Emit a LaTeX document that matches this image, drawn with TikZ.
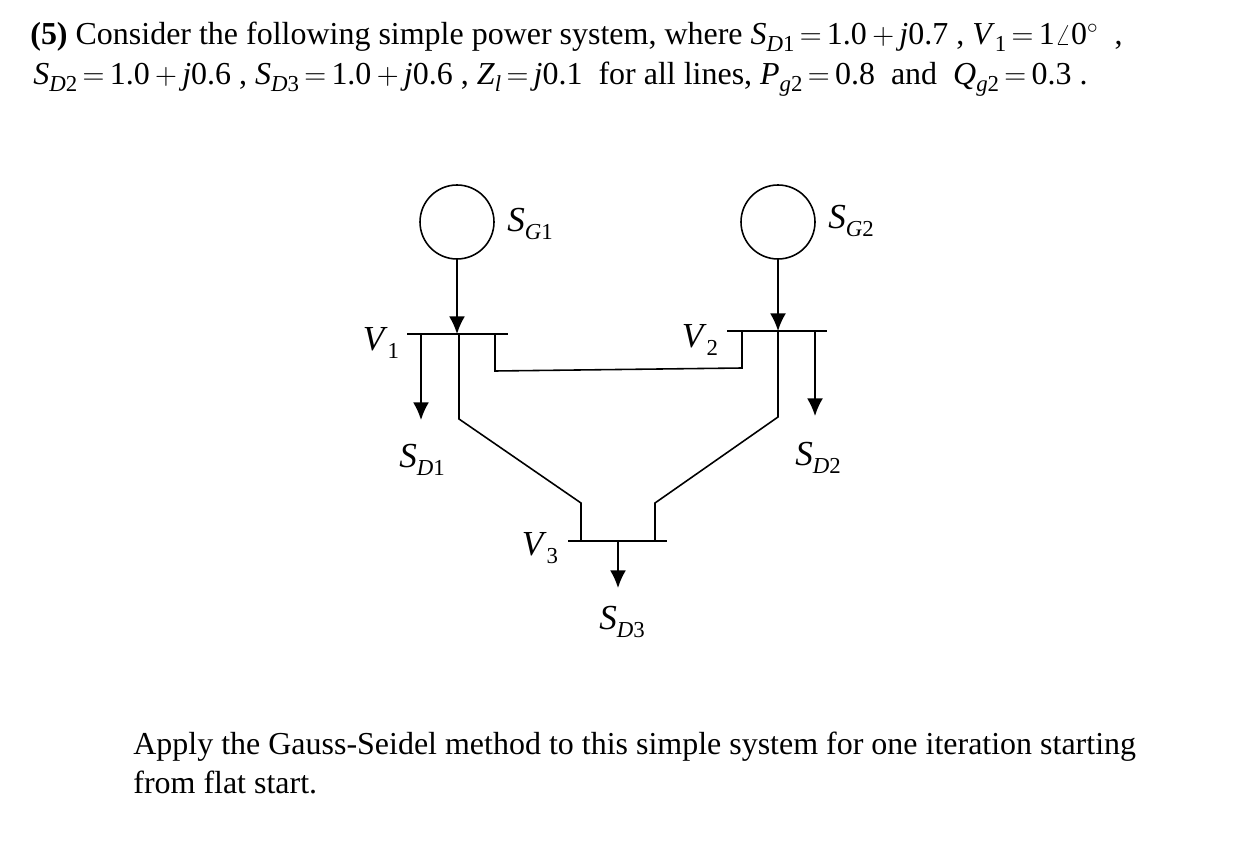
\documentclass[tikz,border=0pt]{standalone}
\usetikzlibrary{arrows.meta}
\usepackage{fontspec}
\setmainfont{Liberation Serif}
\newcommand\sbs[1]{\raisebox{-0.45ex}{\fontsize{13}{14}\selectfont #1}}
\newcommand\isub[2]{\textit{#1}\sbs{\textit{#2}}}
\newcommand\nsub[2]{\textit{#1}\sbs{#2}}
\newcommand\eqs{\,$=$\,}
\newcommand\pls{\,$+$\,}
\begin{document}
\begin{tikzpicture}[x=0.02cm,y=-0.02cm,
  line/.style={line width=0.9pt},
  tip/.style={line width=0.9pt,-{Latex[length=10pt,width=9pt]}},
  lbl/.style={font=\fontsize{20}{22}\selectfont},
  txt/.style={font=\fontsize{18.2}{22}\selectfont,anchor=base west,inner sep=0}]
\useasboundingbox (0,0) rectangle (1244,844);
\node[txt] (t1) at (30,45) {\textbf{(5)} Consider the following simple power system, where \isub{S}{D}\sbs{1}\eqs1.0\pls\textit{j}0.7\ ,\ \nsub{V}{1}\eqs1$\angle$0$^\circ$\ \ ,};
\node[txt] (t2) at (33,85) {\isub{S}{D}\sbs{2}\eqs1.0\pls\textit{j}0.6\ ,\ \isub{S}{D}\sbs{3}\eqs1.0\pls\textit{j}0.6\ ,\ \isub{Z}{l}\eqs\textit{j}0.1\ \ for all lines,\ \isub{P}{g}\sbs{2}\eqs0.8\ \ and\ \ \isub{Q}{g}\sbs{2}\eqs0.3\ .};
\node[txt] (t3) at (133,754) {Apply the Gauss-Seidel method to this simple system for one iteration starting};
\node[txt] (t4) at (133,793) {from flat start.};
% generators
\node[draw,line width=0.9pt,circle,minimum size=74*0.02cm,inner sep=0] (g1) at (457,222) {};
\node[draw,line width=0.9pt,circle,minimum size=74*0.02cm,inner sep=0] (g2) at (778,222) {};
% buses
\coordinate (b1l) at (407,334); \coordinate (b1r) at (508,334);
\coordinate (b2l) at (727,331); \coordinate (b2r) at (827,331);
\coordinate (b3l) at (568,541); \coordinate (b3r) at (667,541);
\draw[line] (b1l) -- (b1r); \draw[line] (b2l) -- (b2r); \draw[line] (b3l) -- (b3r);
\coordinate (g1b) at (457,334); \coordinate (g2b) at (778,331);
\draw[tip] (g1.south) -- (g1b);
\draw[tip] (g2.south) -- (g2b);
% loads
\coordinate (d1a) at (421,334); \coordinate (d1b) at (421,420);
\coordinate (d2a) at (815,331); \coordinate (d2b) at (815,416);
\coordinate (d3a) at (618,541); \coordinate (d3b) at (618,588);
\draw[tip] (d1a) -- (d1b); \draw[tip] (d2a) -- (d2b); \draw[tip] (d3a) -- (d3b);
% lines
\draw[line] (495,334) -- (495,371) -- (742,368) -- (742,331);
\draw[line] (459,334) -- (459,419) -- (581,503) -- (581,541);
\draw[line] (778,331) -- (778,417) -- (655,503) -- (655,541);
% labels
\node[lbl] (lg1) at (530,224) {\isub{S}{G}\sbs{1}};
\node[lbl] (lg2) at (851,221) {\isub{S}{G}\sbs{2}};
\node[lbl] (lv1) at (381,343) {\nsub{V}{1}};
\node[lbl] (lv2) at (700,340) {\nsub{V}{2}};
\node[lbl] (lv3) at (540,548) {\nsub{V}{3}};
\node[lbl] (ld1) at (422,460) {\isub{S}{D}\sbs{1}};
\node[lbl] (ld2) at (818,458) {\isub{S}{D}\sbs{2}};
\node[lbl] (ld3) at (622,622) {\isub{S}{D}\sbs{3}};
\end{tikzpicture}
\end{document}
